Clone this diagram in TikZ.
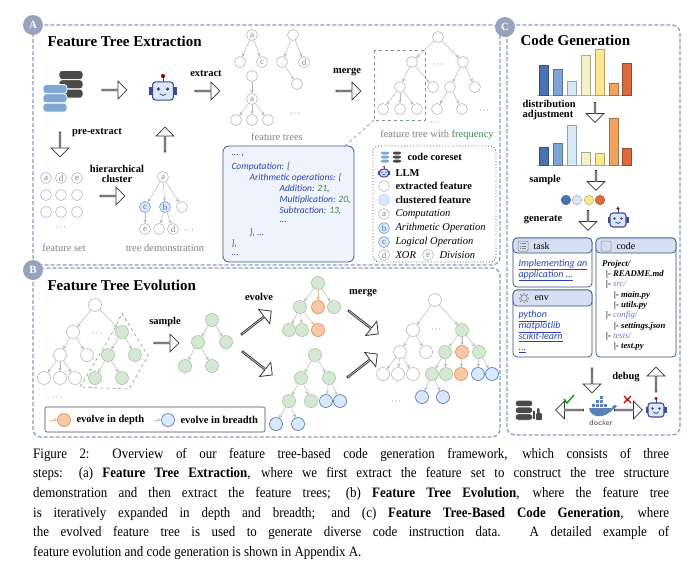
\documentclass[tikz,border=0pt]{standalone}
\usepackage{fontspec}
\setmainfont{Liberation Serif}
\newfontfamily\codef{Carlito}
\newfontfamily\capf{Liberation Serif}[FakeStretch=0.9]
\usetikzlibrary{shapes.arrows,arrows.meta,shapes.geometric,calc}
\definecolor{pan}{HTML}{8A9BC4}
\definecolor{badge}{HTML}{97A3BC}
\definecolor{gnf}{HTML}{D5E8D4}
\definecolor{gnd}{HTML}{A7C4A0}
\definecolor{onf}{HTML}{F6C9A8}
\definecolor{ond}{HTML}{E0874A}
\definecolor{bnf}{HTML}{DAE8FC}
\definecolor{bnd}{HTML}{4A6FB5}
\definecolor{rbt}{HTML}{3E4A8C}
\definecolor{cblue}{HTML}{2A44B0}
\definecolor{cgreen}{HTML}{3A8A4A}
\definecolor{dbb}{HTML}{7FA7D4}
\definecolor{dbg}{HTML}{4A4A4A}
\definecolor{b1}{HTML}{4A72B0}
\definecolor{b2}{HTML}{7EA6D4}
\definecolor{b3}{HTML}{D5E8F3}
\definecolor{b4}{HTML}{F4F2C8}
\definecolor{b5}{HTML}{FBE78E}
\definecolor{b6}{HTML}{F0A460}
\definecolor{b7}{HTML}{DD6A3B}
\definecolor{boxf}{HTML}{EEF3FC}
\definecolor{boxh}{HTML}{D6E0F5}
\tikzset{
 fn/.style={circle,draw=gray!55,line width=0.6pt,fill=white,minimum size=11pt,inner sep=0pt,font=\fontsize{9}{9}\selectfont,text=gray},
 gn/.style={fn,fill=gnf,draw=gnd,minimum size=13pt},
 wn/.style={fn,minimum size=13pt},
 on/.style={fn,fill=onf,draw=ond,minimum size=13pt},
 bn/.style={fn,fill=bnf,draw=bnd,minimum size=13pt},
 cn/.style={fn,fill=bnf,draw=bnd!70,text=bnd},
 ed/.style={-{Stealth[length=3.5pt,width=3.5pt]},gray!55,line width=0.5pt},
 oed/.style={ed,ond!60},
 bed/.style={ed,bnd!40},
 barrow/.style={single arrow,draw=black!80,fill=white,line width=0.8pt,minimum width=18pt,single arrow head extend=4pt,single arrow head indent=0pt,inner sep=0pt},
 panel/.style={draw=pan,dashed,line width=1.3pt,rounded corners=8pt,dash pattern=on 4pt off 2pt},
 bdg/.style={circle,fill=badge,text=white,minimum size=20pt,inner sep=0pt,font=\bfseries\fontsize{11}{11}\selectfont},
 ttl/.style={anchor=west,font=\bfseries\fontsize{15}{16}\selectfont},
 lbl/.style={font=\bfseries\fontsize{10.5}{11}\selectfont},
 glbl/.style={font=\fontsize{10.5}{11}\selectfont,text=gray},
 lg/.style={anchor=west,font=\bfseries\fontsize{10.5}{11}\selectfont},
 lgi/.style={anchor=west,font=\itshape\fontsize{10.5}{11}\selectfont},
 code/.style={anchor=west,font=\codef\itshape\fontsize{9.5}{10}\selectfont,text=cblue},
 pics/robot/.style={code={
   \fill[rbt] (-10.5,-3) rectangle (-8,3);
   \fill[rbt] (8,-3) rectangle (10.5,3);
   \draw[rbt,line width=0.8pt] (0,-7)--(0,-11);
   \fill[red!60!black] (0,-11.5) circle (1.6);
   \draw[rbt,fill=bnf,line width=1.1pt,rounded corners=3pt] (-8,-7) rectangle (8,7);
   \fill[rbt] (-3.5,-1.5) circle (1.4) (3.5,-1.5) circle (1.4);
   \draw[rbt,line width=0.8pt] (-2.5,2.2) .. controls (-1,3.8) and (1,3.8) .. (2.5,2.2);
 }},
 pics/db/.style={code={
   \foreach \i in {0,1,2}{\fill[#1,draw=white,line width=0.8pt,rounded corners=3pt] (-8,-9+\i*6.2) rectangle (8,-3+\i*6.2);}
 }},
}
\begin{document}
\begin{tikzpicture}[x=1pt,y=-1pt]
\useasboundingbox[fill=white] (0,0) rectangle (699,574);
% ===== panels
\draw[panel] (33,25) rectangle (500,265);
\draw[panel] (33,268) rectangle (500,437);
\draw[panel] (507,25) rectangle (680,435);
\node[bdg] (bA) at (33,25) {A};
\node[bdg] (bB) at (33,270) {B};
\node[bdg] (bC) at (505,27) {C};
% ===== Panel A
\node[ttl] (tA) at (44,41) {Feature Tree Extraction};
\pic[scale=1.5] at (71,84) {db=dbg};
\pic[scale=1.5] at (55,98) {db=dbb};
\node[barrow,minimum height=25pt] (a1) at (114,90) {};
\pic[scale=1.3] at (163,91) {robot};
\node[lbl] (lex) at (206,74) {extract};
\node[barrow,minimum height=25pt] (aex) at (207,91) {};
\node[barrow,minimum height=25pt,rotate=-90] (apre) at (60,144) {};
\node[lbl] (lpre) at (97,133) {pre-extract};
\node[barrow,minimum height=25pt,rotate=90] (aup) at (165,140) {};
\node[lbl,align=center] (lhc) at (117,174) {hierarchical\\[-1pt]cluster};
\node[barrow,minimum height=25pt] (ahc) at (112,196) {};
% feature set
\foreach \x/\t [count=\i] in {46/a,61/d,77/e}{\node[fn] (fs1\i) at (\x,178) {\t};}
\foreach \x [count=\i] in {46,61,77}{\node[fn] (fs2\i) at (\x,195) {}; \node[fn] (fs3\i) at (\x,212) {};}
\node (fsd) at (61,228) {\fontsize{8}{8}\selectfont$\cdots$};
\node[glbl] (lfs) at (64,248) {feature set};
% tree demonstration
\node[fn] (ta) at (163,177) {a};
\node[cn] (tc) at (145,207) {c};
\node[cn] (tb) at (165,207) {b};
\node[fn] (t3) at (182,207) {};
\node[fn] (te) at (145,229) {e};
\node[fn] (t5) at (159,229) {};
\node[fn] (td) at (173,229) {d};
\node (tdd) at (189,231) {\fontsize{8}{8}\selectfont$\cdots$};
\draw[ed] (ta)--(tc); \draw[ed] (ta)--(tb); \draw[ed] (ta)--(t3);
\draw[ed] (tc)--(te); \draw[ed] (tb)--(t5); \draw[ed] (tb)--(td);
\node[glbl] (ltd) at (165,248) {tree demonstration};
% feature trees
\node[fn] (f1r) at (252,35) {a}; \node[fn] (f1a) at (240,62) {}; \node[fn] (f1b) at (262,62) {c};
\draw[ed] (f1r)--(f1a); \draw[ed] (f1r)--(f1b);
\node[fn] (f2r) at (293,35) {}; \node[fn] (f2a) at (282,62) {}; \node[fn] (f2b) at (304,62) {d}; \node[fn] (f2c) at (297,84) {};
\draw[ed] (f2r)--(f2a); \draw[ed] (f2r)--(f2b); \draw[ed] (f2a)--(f2c);
\node[fn] (f3r) at (252,76) {}; \node[fn] (f3a) at (252,99) {a};
\node[fn] (f3b) at (236,120) {}; \node[fn] (f3c) at (252,120) {}; \node[fn] (f3d) at (268,120) {};
\draw[ed] (f3r)--(f3a); \draw[ed] (f3a)--(f3b); \draw[ed] (f3a)--(f3c); \draw[ed] (f3a)--(f3d);
\node (f3dd) at (295,114) {\fontsize{8}{8}\selectfont$\cdots$};
\node[glbl] (lft) at (277,137) {feature trees};
\node[lbl] (lmg) at (347,72) {merge};
\node[barrow,minimum height=25pt] (amg) at (348,91) {};
% merged tree
\node[fn] (m0) at (438,37) {};
\node[fn] (m1) at (412,62) {}; \node[fn] (m2) at (463,62) {};
\node (mdd) at (438,65) {\fontsize{8}{8}\selectfont$\cdots$};
\node[fn] (m11) at (400,87) {}; \node[fn] (m12) at (433,87) {};
\node[fn] (m21) at (450,87) {}; \node[fn] (m22) at (475,87) {};
\node[fn] (m111) at (383,109) {}; \node[fn] (m112) at (400,109) {}; \node[fn] (m113) at (417,109) {};
\node[fn] (m211) at (437,109) {}; \node[fn] (m212) at (462,109) {};
\node (mdd2) at (484,111) {\fontsize{8}{8}\selectfont$\cdots$};
\node (mdd3) at (435,123) {\fontsize{8}{8}\selectfont$\cdots$};
\foreach \a/\b in {m0/m1,m0/m2,m1/m11,m1/m12,m2/m21,m2/m22,m11/m111,m11/m112,m11/m113,m21/m211,m21/m212}{\draw[ed] (\a)--(\b);}
\coordinate (dbx1) at (374,50); \coordinate (dbx2) at (425,120);
\draw[pan!90!black,dashed,line width=0.6pt] (dbx1) rectangle (dbx2);
\coordinate (cbt) at (345,146);
\draw[pan!90!black,dashed,line width=0.6pt] (374,120)--(cbt);
\node[glbl] (lfq) at (437,135) {feature tree with \textcolor{cgreen}{frequency}};
% code box
\draw[bnd!80!black,fill=boxf,line width=0.8pt,rounded corners=6pt] (223,146) rectangle (354,262);
\node[code] (c1) at (228,156) {... ,};
\node[code] (c2) at (228,167) {Computation: \{};
\node[code] (c3) at (246,178) {Arithmetic operations: \{};
\node[code] (c4) at (276,189) {Addition: \textcolor{cgreen}{21},};
\node[code] (c5) at (276,200) {Multiplication: \textcolor{cgreen}{20},};
\node[code] (c6) at (276,211) {Subtraction: \textcolor{cgreen}{13},};
\node[code] (c7) at (276,222) {...};
\node[code] (c8) at (246,233) {\}, ...};
\node[code] (c9) at (228,244) {\},};
\node[code] (c10) at (228,255) {...};
% legend A
\draw[gray!70!black,dotted,line width=0.9pt,rounded corners=6pt] (373,146) rectangle (496,262);
\pic[scale=0.65] at (385,157) {db=dbb}; \pic[scale=0.65] at (397,157) {db=dbg};
\node[lg] (l1) at (404,157) {code coreset};
\pic[scale=0.55] at (384,173) {robot};
\node[lg] (l2) at (392,173) {LLM};
\node[fn] (li3) at (384,186) {}; \node[lg] (l3) at (392,186) {extracted feature};
\node[fn,fill=bnf,draw=bnf!70!bnd] (li4) at (384,200) {}; \node[lg] (l4) at (392,200) {clustered feature};
\node[fn] (li5) at (384,214) {a}; \node[lgi] (l5) at (392,214) {Computation};
\node[cn] (li6) at (384,228) {b}; \node[lgi] (l6) at (392,228) {Arithmetic Operation};
\node[cn] (li7) at (384,242) {c}; \node[lgi] (l7) at (392,242) {Logical Operation};
\node[fn] (li8) at (384,255) {d}; \node[lgi] (l8) at (392,255) {XOR};
\node[fn] (li9) at (428,255) {e}; \node[lgi] (l9) at (436,255) {Division};
% ===== Panel B
\node[ttl] (tB) at (44,285) {Feature Tree Evolution};
\draw[gnd!60!black!70,dashed,line width=0.7pt] (122,313)--(148,356)--(129,389)--(80,387)--(114,330)--cycle;
\node[wn] (e0) at (95,305) {};
\node[wn] (e1) at (73,332) {}; \node[gn] (e2) at (122,332) {};
\node (edd) at (97,334) {\fontsize{8}{8}\selectfont$\cdots$};
\node[wn] (e11) at (60,355) {}; \node[wn] (e12) at (87,355) {};
\node[gn] (e21) at (108,355) {}; \node[gn] (e22) at (135,355) {};
\node[wn] (e111) at (44,378) {}; \node[wn] (e112) at (60,378) {}; \node[wn] (e113) at (75,378) {};
\node[gn] (e211) at (95,378) {}; \node[gn] (e212) at (122,378) {};
\node (edd2) at (57,398) {\fontsize{8}{8}\selectfont$\cdots$};
\foreach \a/\b in {e0/e1,e0/e2,e1/e11,e1/e12,e2/e21,e2/e22,e11/e111,e11/e112,e11/e113,e21/e211,e21/e212}{\draw[ed] (\a)--(\b);}
\node[lbl] (lsm) at (165,322) {sample};
\node[barrow,minimum height=25pt] (asm) at (166,343) {};
\node[gn] (s0) at (212,320) {}; \node[gn] (s1) at (198,342) {}; \node[gn] (s2) at (226,342) {};
\node[gn] (s11) at (185,366) {}; \node[gn] (s12) at (212,366) {};
\foreach \a/\b in {s0/s1,s0/s2,s1/s11,s1/s12}{\draw[ed] (\a)--(\b);}
\node[lbl] (lev) at (259,297) {evolve};
\node[barrow,minimum height=38pt,rotate=38] (aev1) at (256,323) {};
\node[barrow,minimum height=38pt,rotate=-38] (aev2) at (257,363) {};
% top tree
\node[gn] (u0) at (318,283) {}; \node[gn] (u1) at (300,307) {}; \node[on] (u2) at (318,307) {}; \node[gn] (u3) at (334,307) {};
\node[gn] (u11) at (289,330) {}; \node[gn] (u12) at (302,330) {}; \node[on] (u13) at (318,330) {};
\draw[ed] (u0)--(u1); \draw[oed] (u0)--(u2); \draw[ed] (u0)--(u3); \draw[ed] (u1)--(u11); \draw[ed] (u1)--(u12); \draw[oed] (u1)--(u13);
% bottom tree
\node[gn] (w0) at (315,355) {}; \node[gn] (w1) at (301,378) {}; \node[gn] (w2) at (329,378) {};
\node[gn] (w11) at (289,401) {}; \node[gn] (w12) at (311,401) {};
\node[bn] (w21) at (326,401) {}; \node[bn] (w22) at (340,401) {};
\node[bn] (w111) at (276,424) {}; \node[bn] (w112) at (298,424) {};
\draw[ed] (w0)--(w1); \draw[ed] (w0)--(w2); \draw[ed] (w1)--(w11); \draw[ed] (w1)--(w12);
\draw[bed] (w2)--(w21); \draw[bed] (w2)--(w22); \draw[ed] (w11)--(w111); \draw[ed] (w11)--(w112);
\node[lbl] (lmg2) at (363,293) {merge};
\node[barrow,minimum height=38pt,rotate=-38] (amg1) at (363,322) {};
\node[barrow,minimum height=38pt,rotate=38] (amg2) at (362,366) {};
% result tree
\node[wn] (r0) at (435,300) {};
\node[wn] (r1) at (413,330) {}; \node[gn] (r2) at (462,330) {};
\node (rdd) at (436,330) {\fontsize{8}{8}\selectfont$\cdots$};
\node[wn] (r11) at (400,352) {}; \node[wn] (r12) at (426,352) {};
\node[gn] (r21) at (445,352) {}; \node[on] (r22) at (462,352) {}; \node[gn] (r23) at (479,352) {};
\node[wn] (r111) at (383,374) {}; \node[wn] (r112) at (398,374) {}; \node[wn] (r113) at (413,374) {};
\node[gn] (r211) at (432,374) {}; \node[gn] (r212) at (446,374) {}; \node[on] (r221) at (461,374) {};
\node[bn] (r231) at (478,374) {}; \node[bn] (r232) at (492,374) {};
\node[bn] (r2111) at (422,397) {}; \node[bn] (r2112) at (443,397) {};
\node (rdd2) at (396,402) {\fontsize{8}{8}\selectfont$\cdots$};
\foreach \a/\b in {r0/r1,r0/r2,r1/r11,r1/r12,r2/r21,r2/r22,r2/r23,r11/r111,r11/r112,r11/r113,r21/r211,r21/r212,r22/r221,r23/r231,r23/r232,r211/r2111,r211/r2112}{\draw[ed] (\a)--(\b);}
% legend B
\draw[black!70,line width=0.6pt,rounded corners=2pt] (45,407) rectangle (265,432);
\coordinate (lo0) at (50,420); \node[on] (lo) at (64,420) {};
\draw[oed] (lo0)--(lo);
\node[lg] (llo) at (73,420) {evolve in depth};
\coordinate (lb0) at (154,420); \node[bn] (lb) at (168,420) {};
\draw[bed] (lb0)--(lb);
\node[lg] (llb) at (177,420) {evolve in breadth};
% ===== Panel C
\node[ttl] (tC) at (517,40) {Code Generation};
\draw[gray!60] (537,95)--(632,95);
\foreach \x/\t/\c in {544/65/b1,558/69/b2,572/81/b3,586/55/b4,600/49/b5,614/83/b6,627/63/b7}{\fill[\c,draw=\c!70!black,line width=0.4pt] (\x-4.5,95) rectangle (\x+4.5,\t);}
\node[lbl,align=left,anchor=west] (lda) at (519,110) {distribution\\[-1pt]adjustment};
\node[barrow,minimum height=20pt,minimum width=18pt,rotate=-90] (ada) at (595,112) {};
\draw[gray!60] (537,165)--(632,165);
\foreach \x/\t/\c in {544/147/b1,558/143/b2,572/125/b3,586/152/b4,600/153/b5,614/118/b6,627/148/b7}{\fill[\c,draw=\c!70!black,line width=0.4pt] (\x-4.5,165) rectangle (\x+4.5,\t);}
\node[lbl] (lsc) at (545,180) {sample};
\node[barrow,minimum height=20pt,minimum width=18pt,rotate=-90] (asc) at (596,180) {};
\foreach \c/\x [count=\i] in {b1/566,b3/577,b5/589,b7/600}{\node[circle,fill=\c,draw=\c!70!black,line width=0.4pt,minimum size=9.5pt,inner sep=0pt] (pt\i) at (\x,200) {};}
\node[lbl] (lgn) at (543,220) {generate};
\node[barrow,minimum height=20pt,minimum width=18pt,rotate=-90] (agn) at (588,220) {};
\pic at (618,220) {robot};
% task box
\draw[bnd!70!black,fill=white,line width=0.7pt,rounded corners=4pt] (513,238) rectangle (592,287);
\draw[bnd!70!black,fill=boxh,line width=0.7pt,rounded corners=4pt] (513,238) rectangle (592,253);
\draw[gray,line width=0.5pt,rounded corners=1pt] (518,241) rectangle (528,251);
\foreach \yy in {243.5,246,248.5}{\draw[gray,line width=0.4pt] (520,\yy)--(521,\yy) (522,\yy)--(526,\yy);}
\node[anchor=west,font=\fontsize{10}{10}\selectfont] (ltk) at (530,246) {task};
\node[code,font=\codef\itshape\fontsize{10}{11}\selectfont,align=left] (ltk2) at (515,270) {\underline{Implementing an}\\\underline{application ...}};
% env box
\draw[bnd!70!black,fill=white,line width=0.7pt,rounded corners=4pt] (513,290) rectangle (592,357);
\draw[bnd!70!black,fill=boxh,line width=0.7pt,rounded corners=4pt] (513,290) rectangle (592,306);
\draw[gray,line width=0.6pt] (524,298) circle (3.2);
\foreach \a in {0,45,...,315}{\draw[gray,line width=1pt] ($(524,298)+(\a:3.8)$)--($(524,298)+(\a:5.3)$);}
\node[anchor=west,font=\fontsize{10}{10}\selectfont] (lenv) at (531,298) {env};
\node[code,font=\codef\itshape\fontsize{10}{11}\selectfont,align=left] (lenv2) at (515,332) {\underline{python}\\\underline{matplotlib}\\\underline{scikit-learn}\\\underline{...}};
% code box
\draw[bnd!70!black,fill=white,line width=0.7pt,rounded corners=4pt] (596,238) rectangle (676,357);
\draw[bnd!70!black,fill=boxh,line width=0.7pt,rounded corners=4pt] (596,238) rectangle (676,253);
\draw[gray,line width=0.5pt,rounded corners=1pt] (601,241) rectangle (611,251);
\node[font=\fontsize{5}{5}\selectfont,text=gray] at (605,245.5) {>\_};
\node[anchor=west,font=\fontsize{10}{10}\selectfont] (lcd) at (613,246) {code};
\node[anchor=north west,font=\bfseries\itshape\fontsize{8.7}{10.3}\selectfont,align=left,inner sep=0pt] (lcd2) at (602,260) {Project/\\
\hspace*{4pt}|- README.md\\
\hspace*{4pt}|- \textcolor{cblue!70}{\mdseries src/}\\
\hspace*{12pt}|- main.py\\
\hspace*{12pt}|- utils.py\\
\hspace*{4pt}|- \textcolor{cblue!70}{\mdseries config/}\\
\hspace*{12pt}|- settings.json\\
\hspace*{4pt}|- \textcolor{cblue!70}{\mdseries tests/}\\
\hspace*{12pt}|- test.py};
\node[lbl] (ldb) at (626,377) {debug};
\node[barrow,minimum height=25pt,minimum width=18pt,rotate=-90] (adn) at (592,380) {};
\node[barrow,minimum height=25pt,minimum width=18pt,rotate=90] (aupc) at (656,380) {};
% bottom row
\pic[scale=1.1] at (524,410) {db=dbg};
\fill[dbg] (533,411) rectangle (535,419);
\fill[dbg,rounded corners=1pt] (536,413) rectangle (542,420);
\fill[dbg,rounded corners=1pt] (537,408) rectangle (539.5,414);
\node[barrow,minimum height=28pt,rotate=180] (aok) at (570,410) {};
\draw[green!60!black,line width=1.3pt] (564,399)--(567,403)--(574,395);
% docker
\fill[b1!90] (589,408) .. controls (590,418) and (605,420) .. (614,408) -- cycle;
\foreach \xx/\yy in {592/404,596/404,600/404,604/404,596/400,600/400,600/396}{\fill[b1!90] (\xx,\yy) rectangle (\xx+3.3,\yy+3.3);}
\fill[b1!90] (612,408) .. controls (613,404) and (616,404) .. (617,406) -- (614,409) -- cycle;
\node[font=\sffamily\fontsize{8}{8}\selectfont,text=gray!60!black] (ldk) at (601,423) {docker};
\node[barrow,minimum height=28pt] (afail) at (628,410) {};
\draw[red!80!black,line width=1.3pt] (624,396)--(631,403) (631,396)--(624,403);
\pic at (656,410) {robot};
% ===== caption
\node[anchor=north west,text width=636pt,align=justify,inner sep=0pt,font=\capf\fontsize{14.4}{19.6}\selectfont] (cap) at (33,448) {Figure 2: Overview of our feature tree-based code generation framework, which consists of three\linebreak steps: (a) \textbf{Feature Tree Extraction}, where we first extract the feature set to construct the tree structure\linebreak demonstration and then extract the feature trees; (b) \textbf{Feature Tree Evolution}, where the feature tree\linebreak is iteratively expanded in depth and breadth; and (c) \textbf{Feature Tree-Based Code Generation}, where\linebreak the evolved feature tree is used to generate diverse code instruction data. A detailed example of\linebreak feature evolution and code generation is shown in Appendix A.};
\end{tikzpicture}
\end{document}
